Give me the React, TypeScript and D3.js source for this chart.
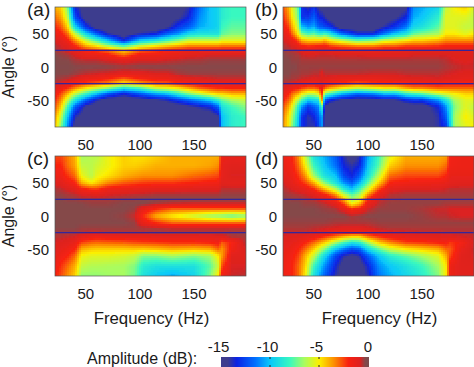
import React, { useMemo } from "react";
import * as d3 from "d3";

const angles = [90, 75, 60, 50, 40, 32, 25, 18, 10, 0, -10, -18, -25, -32, -40, -50, -60, -75, -90];

const freqA = [21, 27, 33, 40, 50, 60, 70, 85, 100, 115, 125, 135, 145, 155, 165, 172, 176, 185, 197];
const ampA = [
  [-4, -3, -2, -1.5, -1, -0.5, -0.5, -0.3, -0.2, -0.2, -0.3, -0.4, -0.7, -1, -1.5, -2, -2.5, -3.5, -4],
  [-4.5, -3.8, -2.7, -1.8, -1, -0.8, -0.6, -0.4, -0.3, -0.2, -0.3, -0.5, -0.8, -1.5, -2.5, -3.5, -4.5, -6, -7],
  [-7, -6, -4.5, -3, -1.8, -1, -0.8, -0.5, -0.3, -0.2, -0.3, -0.6, -1.2, -2.2, -4, -6, -8, -10, -11],
  [-13.5, -12.5, -9.5, -6, -3.5, -2, -1.2, -0.8, -0.5, -0.3, -0.4, -0.9, -1.8, -3.5, -6, -9, -12, -14, -15],
  [-15, -15, -13, -9.5, -6, -4, -2, -1.3, -0.6, -0.3, -0.6, -1.4, -2.5, -5, -8, -12, -14.5, -15, -15],
  [-15, -15, -15, -12, -8, -5, -2.5, -1.4, -0.6, -0.3, -0.7, -1.6, -3, -6, -10, -14, -15, -15, -15],
  [-15, -15, -15, -14, -10, -6.5, -3, -1.8, -0.8, -0.3, -0.8, -2, -3.5, -7, -12, -15, -15, -15, -15],
  [-15, -15, -15, -15, -13.5, -8, -4.5, -3, -1, -0.4, -1, -3, -5, -9, -13.5, -15, -15, -15, -15],
  [-15, -15, -15, -14, -10, -6, -3, -1.6, -0.8, -0.3, -1, -2, -4, -8, -12, -15, -15, -15, -15],
  [-15, -15, -15, -13.5, -9, -5, -2.5, -1.5, -0.8, -0.3, -0.8, -1.6, -3, -6, -10.5, -14.5, -15, -15, -15],
  [-15, -15, -14.5, -12, -8, -4.5, -2, -1.3, -0.7, -0.3, -0.8, -1.5, -3, -5.5, -10, -14, -15, -15, -15],
  [-15, -14.5, -13, -11, -7, -4, -1.8, -1.2, -0.6, -0.3, -0.5, -1.2, -2.2, -5, -8.5, -13, -15, -15, -15],
  [-14, -13.5, -12, -9.5, -6, -3.5, -1.5, -1, -0.5, -0.3, -0.4, -1, -1.8, -4, -7, -12, -14.5, -15, -15],
  [-11.5, -11, -10.5, -9, -6, -3.5, -1.5, -0.9, -0.5, -0.3, -0.4, -0.9, -1.5, -3, -6, -11, -14, -15, -15],
  [-10, -10, -10, -9, -6, -3.5, -1.5, -0.8, -0.4, -0.3, -0.4, -0.8, -1.3, -2.5, -5, -10, -13.5, -15, -15],
  [-9.5, -9.5, -9.5, -9, -6, -3.5, -1.5, -0.8, -0.4, -0.3, -0.4, -0.7, -1.2, -2.2, -4.5, -8.5, -12, -14.5, -15],
  [-8.5, -8.5, -8, -7.5, -5.5, -3.3, -1.5, -0.8, -0.4, -0.3, -0.4, -0.7, -1.2, -2.2, -4.5, -7.5, -9, -10, -10],
  [-8, -8, -7.5, -7, -5.5, -3.3, -1.5, -0.8, -0.4, -0.3, -0.4, -0.7, -1.2, -2, -4, -6.5, -8, -8.5, -8.5],
  [-8, -8, -7.5, -7, -5.5, -3.3, -1.5, -0.8, -0.4, -0.3, -0.4, -0.7, -1.2, -2, -4, -6, -7, -8, -8],
];

const freqB = [21, 27, 30, 33, 36, 39, 45, 50, 55, 57, 60, 65, 75, 90, 105, 115, 125, 135, 142, 150, 165, 172, 180, 190, 197];
const ampB = [
  [-2.5, -2, -1.5, -1, -0.7, -0.5, -0.4, -0.3, -0.3, -0.3, -0.3, -0.4, -0.6, -0.9, -1.2, -1.8, -2.5, -3, -3.5],
  [-4, -3.5, -2.5, -1.8, -1, -0.7, -0.5, -0.4, -0.3, -0.3, -0.3, -0.4, -0.7, -1.2, -2, -3, -4, -5, -5],
  [-5.5, -5, -4, -3, -1.5, -0.9, -0.6, -0.4, -0.4, -0.3, -0.4, -0.5, -0.8, -1.5, -3, -4, -5.5, -6.5, -7],
  [-6.5, -6, -5, -4, -2, -1, -0.6, -0.5, -0.4, -0.3, -0.4, -0.5, -0.9, -1.8, -3.5, -5.5, -7, -8, -8.5],
  [-8, -7.5, -6.5, -5.5, -3, -1.5, -0.8, -0.5, -0.4, -0.4, -0.4, -0.6, -1, -2, -4, -6.5, -9, -10, -10.5],
  [-13, -13, -10, -7, -4, -2, -1, -0.7, -0.5, -0.4, -0.5, -0.7, -1.2, -2.5, -5, -8, -11, -13, -13],
  [-14, -13, -11, -8, -4.5, -2.3, -1.2, -0.8, -0.5, -0.4, -0.5, -0.8, -1.5, -3, -6, -10, -13, -14, -14],
  [-13, -12, -10.5, -7.5, -4.5, -2.2, -1.2, -0.8, -0.5, -0.4, -0.6, -0.9, -1.5, -3, -6, -9.5, -12, -13.5, -14],
  [-14.5, -13.5, -12, -8.5, -4.5, -2, -1, -0.7, -0.5, -0.4, -0.6, -0.8, -1.3, -2.5, -5, -9, -11, -12, -12.5],
  [-14.5, -13.5, -12, -8.5, -4.5, -2, -1, -0.7, -0.5, -0.4, -1, -0.8, -1, -1, -1.2, -2, -7, -10, -10],
  [-15, -14, -12.5, -8, -4, -1.8, -1, -0.7, -0.5, -0.4, -0.6, -0.9, -1.5, -3, -7, -12, -14.5, -15, -15],
  [-15, -15, -13, -9, -5, -2.5, -1.2, -0.7, -0.5, -0.4, -0.6, -1, -1.8, -4, -8, -13.5, -15, -15, -15],
  [-15, -15, -15, -11.5, -6, -3, -1.3, -0.8, -0.5, -0.4, -0.6, -1.2, -2.3, -5, -10, -14.5, -15, -15, -15],
  [-15, -15, -15, -13.5, -7.5, -3.5, -1.4, -0.8, -0.5, -0.4, -0.6, -1.3, -3, -6, -11.5, -15, -15, -15, -15],
  [-15, -15, -15, -13.5, -7, -3.5, -1.4, -0.9, -0.5, -0.4, -0.7, -1.3, -2.5, -5.5, -11, -15, -15, -15, -15],
  [-15, -15, -14, -11.5, -6, -3, -1.3, -0.9, -0.5, -0.4, -0.7, -1.2, -2.5, -5, -10, -14.5, -15, -15, -15],
  [-15, -14.5, -13, -10, -5.5, -3, -1.3, -0.9, -0.5, -0.4, -0.7, -1.1, -2.3, -5, -10, -14.5, -15, -15, -15],
  [-14.5, -13.5, -11.5, -9, -5, -2.5, -1.2, -0.9, -0.5, -0.4, -0.6, -1, -2, -4, -8.5, -13.5, -15, -15, -15],
  [-11, -10.5, -9.5, -7.5, -4.5, -2.5, -1, -0.8, -0.5, -0.4, -0.6, -0.9, -1.8, -3.5, -8, -13, -15, -15, -15],
  [-10.5, -10, -9, -7, -4.5, -2.5, -1, -0.8, -0.5, -0.4, -0.6, -0.9, -1.7, -3.5, -7.5, -13, -15, -15, -15],
  [-9.5, -8.5, -7.5, -6.5, -4, -2.3, -1, -0.8, -0.5, -0.4, -0.6, -0.8, -1.5, -3, -6, -11, -13.5, -14, -14],
  [-6, -5.5, -5.5, -5, -3.5, -2, -1, -0.8, -0.6, -0.5, -0.7, -0.9, -1.8, -3, -5.5, -9, -11, -12, -13],
  [-5, -5.5, -5.5, -5, -3.5, -2, -1, -0.9, -0.8, -0.6, -0.8, -1, -1.8, -3, -5, -6.5, -7, -6.5, -6.5],
  [-4.5, -5.5, -6, -5.5, -3.5, -2, -1, -0.9, -0.9, -0.7, -0.9, -1.2, -1.8, -3, -4.5, -5.5, -5.5, -5, -5.5],
  [-5.5, -6, -6, -5, -3.5, -2, -1, -0.9, -0.8, -0.7, -0.9, -1.2, -1.8, -3, -4.5, -5.5, -6, -5.5, -5],
];

const freqC = [21, 27, 33, 40, 46, 55, 60, 70, 85, 95, 103, 115, 130, 150, 165, 172, 176, 185, 197];
const ampC = [
  [-2.5, -2, -1.5, -1, -0.5, -0.4, -0.3, -0.3, -0.3, -0.3, -0.3, -0.3, -0.5, -0.6, -0.8, -1, -1.2, -1.5, -1.8],
  [-2.5, -2, -1.5, -1, -0.6, -0.4, -0.3, -0.3, -0.3, -0.3, -0.3, -0.3, -0.5, -0.6, -0.9, -1.2, -1.6, -2.2, -2.6],
  [-3.2, -3, -2.2, -1.5, -0.8, -0.5, -0.4, -0.3, -0.3, -0.3, -0.3, -0.3, -0.5, -0.7, -1, -1.5, -2, -3, -3.5],
  [-4, -3.8, -3, -2, -1, -0.6, -0.4, -0.3, -0.3, -0.3, -0.3, -0.3, -0.5, -0.8, -1.3, -2, -3, -4, -4.5],
  [-6.5, -6, -5.2, -4, -1.7, -0.8, -0.5, -0.3, -0.3, -0.3, -0.3, -0.4, -0.6, -1.2, -2.5, -4, -5.2, -6, -6.8],
  [-6.2, -6.2, -6.2, -5, -2.2, -0.9, -0.5, -0.4, -0.3, -0.3, -0.3, -0.4, -0.7, -1.6, -2.9, -4.4, -5.5, -6.3, -6.8],
  [-6.2, -5.8, -5.3, -4.5, -2.3, -1, -0.5, -0.4, -0.3, -0.3, -0.3, -0.4, -0.7, -1.8, -3, -4.5, -5.5, -6.3, -6.8],
  [-5.3, -5.3, -4.8, -3.5, -1.5, -0.8, -0.5, -0.4, -0.3, -0.3, -0.3, -0.4, -0.6, -1.6, -2.9, -4.5, -5.5, -6.4, -6.6],
  [-4.5, -4.5, -4, -2.8, -1.3, -0.7, -0.4, -0.3, -0.3, -0.4, -0.3, -0.4, -0.6, -1.5, -2.8, -4.5, -5.7, -6.5, -6.5],
  [-4.8, -4.5, -3.7, -2.6, -1.2, -0.6, -0.4, -0.3, -0.4, -0.7, -0.4, -0.4, -0.6, -1.4, -2.6, -4.4, -6, -7, -7.2],
  [-4.8, -4.3, -3.5, -2.4, -1.1, -0.6, -0.3, -0.3, -1.3, -2.2, -1.3, -0.5, -0.6, -1.4, -2.5, -4.5, -7, -8.5, -9],
  [-4.5, -4, -3.5, -2.3, -1, -0.5, -0.3, -0.5, -2.2, -4, -2.2, -0.5, -0.5, -1.3, -2.4, -4.3, -7, -9, -9.8],
  [-4, -4, -3.5, -2.3, -1, -0.5, -0.3, -0.7, -3, -5, -3, -0.7, -0.5, -1.2, -2.2, -4, -6.5, -9, -10.5],
  [-4, -4, -3, -2, -0.9, -0.5, -0.3, -0.8, -3, -6, -3, -0.7, -0.5, -1.2, -2.2, -4.2, -7, -9, -9.5],
  [-4, -3.8, -2.7, -1.8, -0.9, -0.5, -0.3, -0.8, -3, -6.8, -3, -0.7, -0.5, -1.1, -2, -4, -6.5, -7.5, -7],
  [-4, -3.5, -2.5, -1.7, -0.9, -0.5, -0.3, -0.8, -3, -7, -3, -0.7, -0.5, -1, -1.7, -3, -5, -6, -5],
  [-1.5, -1.2, -1.2, -1, -0.6, -0.4, -0.3, -0.8, -3, -7.2, -3, -0.7, -0.5, -1, -2.8, -3.6, -3.6, -2.5, -1.5],
  [-1.3, -1, -0.8, -1.1, -0.6, -0.4, -0.3, -0.8, -3, -7.5, -3, -0.7, -0.4, -0.6, -1.9, -1.6, -1, -0.8, -0.7],
  [-1.4, -1, -0.8, -1.1, -0.6, -0.4, -0.3, -0.8, -3, -7, -3, -0.7, -0.4, -0.5, -0.6, -0.8, -1, -0.8, -0.6],
];

const freqD = [21, 30, 36, 42, 50, 60, 70, 78, 85, 92, 100, 110, 120, 135, 150, 165, 172, 176, 186, 197];
const ampD = [
  [-1.5, -1.3, -1, -0.7, -0.5, -0.4, -0.3, -0.3, -0.3, -0.3, -0.4, -0.5, -0.7, -0.8, -1, -1.2, -1.3, -1.5, -1.5],
  [-2, -1.8, -1.5, -1.2, -0.8, -0.5, -0.4, -0.3, -0.3, -0.3, -0.4, -0.5, -0.7, -0.9, -1.2, -1.5, -1.8, -2, -2],
  [-3.5, -3, -2.3, -1.8, -1, -0.6, -0.4, -0.3, -0.3, -0.3, -0.4, -0.5, -0.7, -1, -1.5, -2, -2.5, -3, -3],
  [-6, -5, -3.5, -2.5, -1.2, -0.7, -0.5, -0.4, -0.3, -0.3, -0.4, -0.5, -0.7, -1.2, -2, -3, -4, -4.5, -5],
  [-9, -8, -6.5, -4, -2, -1, -0.6, -0.4, -0.3, -0.3, -0.4, -0.6, -0.8, -1.5, -3, -4.5, -6, -8, -9],
  [-10.5, -10, -9, -7, -4, -1.8, -1, -0.6, -0.4, -0.3, -0.4, -0.7, -1, -2.5, -4.5, -7, -9.5, -11, -12],
  [-12, -11.5, -10, -9, -6, -3.5, -2, -1, -0.5, -0.3, -0.5, -0.8, -1.5, -3.5, -6.5, -10, -12.5, -13.5, -14],
  [-14, -13.5, -12.5, -11, -8.5, -6, -4, -2.5, -1, -0.3, -0.5, -0.9, -1.7, -4.5, -8, -11.5, -14, -15, -15],
  [-15, -14, -13.5, -12, -10, -7.5, -6.5, -5, -2, -0.5, -0.5, -0.9, -1.8, -5, -9, -12.5, -14.5, -15, -15],
  [-14, -13.5, -12, -10.5, -8, -6.5, -5.5, -4, -1.5, -0.4, -0.5, -0.9, -1.8, -5, -8.5, -12, -14, -15, -15],
  [-10.5, -10, -9, -7.5, -5.5, -3.5, -2, -1.2, -0.7, -0.3, -0.5, -0.8, -1.5, -3.5, -6.5, -9.5, -12, -13.5, -14],
  [-8, -7.5, -6, -4.5, -2.5, -1.2, -0.7, -0.6, -0.4, -0.3, -0.4, -0.6, -1, -2.5, -4.5, -7.5, -10, -11, -11.5],
  [-5.5, -4.5, -3, -2, -1, -0.6, -0.5, -0.4, -0.4, -0.3, -0.4, -0.5, -0.9, -1.8, -3.5, -6, -8.5, -10, -10.5],
  [-4, -3.5, -2.5, -1.7, -0.8, -0.5, -0.4, -0.4, -0.4, -0.3, -0.4, -0.5, -0.8, -1.3, -2.5, -5, -7.5, -9, -9.5],
  [-4, -3.5, -2.5, -1.6, -0.8, -0.5, -0.4, -0.4, -0.5, -0.4, -0.4, -0.5, -0.7, -1.2, -2.3, -4.5, -6.5, -8, -8.5],
  [-4, -3.5, -2.5, -1.5, -0.8, -0.5, -0.4, -0.4, -0.7, -0.6, -0.4, -0.5, -0.7, -1, -2, -4, -5.5, -6.5, -7],
  [-3.8, -3, -2, -1.3, -0.7, -0.5, -0.4, -0.5, -0.7, -0.6, -0.4, -0.5, -0.6, -1, -1.8, -3, -4, -5, -5],
  [-1.8, -1.6, -1.3, -1.1, -0.6, -0.5, -0.4, -0.5, -0.8, -0.7, -0.4, -0.5, -0.6, -1, -2.3, -2.8, -2.5, -1.5, -1.5],
  [-1.5, -1.5, -1.3, -1, -0.6, -0.5, -0.4, -0.5, -0.8, -0.8, -0.4, -0.5, -0.6, -0.8, -1.8, -1.3, -1, -1, -1],
  [-1.5, -1.5, -1.3, -1, -0.6, -0.5, -0.4, -0.5, -0.8, -0.8, -0.4, -0.5, -0.6, -0.7, -0.8, -0.7, -0.8, -1, -1],
];

const panelLabels = ["(a)", "(b)", "(c)", "(d)"];
const xTicks = [50, 100, 150];
const yTicks = [50, 0, -50];
const refAngles = [25, -25];
const colorTicks = [-15, -10, -5, 0];
const colorDomain = [-15, -14.3, -13.4, -11.5, -10, -8, -6.5, -5, -3.5, -2, -0.8, -0.3, 0];
const colorRange = ["#3d3c8e", "#3d3c8e", "#0a22e4", "#0070ff", "#08c8fa", "#38f8c0", "#a8fc60", "#fcf000", "#fc9000", "#f82010", "#dc2020", "#85484a", "#7a4a4c"];

const color = d3.scaleLinear<string>().domain(colorDomain).range(colorRange).clamp(true);
const fontFamily = "'Liberation Sans', Arial, sans-serif";

function sample(freqs: number[], grid: number[][], f: number, a: number) {
  const i = Math.min(Math.max(d3.bisectRight(freqs, f) - 1, 0), freqs.length - 2);
  const u = Math.min(Math.max((f - freqs[i]) / (freqs[i + 1] - freqs[i]), 0), 1);
  let j = 0;
  while (j < angles.length - 2 && a < angles[j + 1]) j++;
  const v = Math.min(Math.max((angles[j] - a) / (angles[j] - angles[j + 1]), 0), 1);
  const top = grid[i][j] * (1 - u) + grid[i + 1][j] * u;
  const bot = grid[i][j + 1] * (1 - u) + grid[i + 1][j + 1] * u;
  return top * (1 - v) + bot * v;
}

function Panel({ id, left, top, label, freqs, grid, showLabel, labelX }: any) {
  const w = 191;
  const h = 120;
  const x = d3.scaleLinear().domain([21.5, 198]).range([left, left + w]);
  const y = d3.scaleLinear().domain([90, -90]).range([top, top + h]);
  const cells = useMemo(() => {
    const out: React.ReactNode[] = [];
    for (let px = 0; px < w; px += 2) {
      for (let py = 0; py < h; py += 2) {
        const val = sample(freqs, grid, x.invert(left + px + 1), y.invert(top + py + 1));
        out.push(<rect key={`${px}-${py}`} x={left + px} y={top + py} width={2} height={2} fill={color(val)} />);
      }
    }
    return out;
  }, []);
  return (
    <g fontFamily={fontFamily} fill="#1a1a1a">
      <clipPath id={`clip-${id}`}><rect x={left} y={top} width={w} height={h} /></clipPath>
      <g clipPath={`url(#clip-${id})`}>
        <g shapeRendering="crispEdges" filter="url(#soft)">{cells}</g>
      </g>
      {refAngles.map((a) => (
        <line key={a} x1={left} x2={left + w} y1={y(a)} y2={y(a)} stroke="#35259a" strokeWidth={1.1} />
      ))}
      <rect x={left} y={top} width={w} height={h} fill="none" stroke="#555" strokeWidth={0.7} />
      {xTicks.map((t) => (
        <text key={t} x={x(t)} y={top + h + 23} textAnchor="middle" fontSize={15}>{t}</text>
      ))}
      {yTicks.map((t) => (
        <text key={t} x={left - 6} y={y(t) + 5.5} textAnchor="end" fontSize={15}>{t}</text>
      ))}
      <text x={labelX} y={top + 9} textAnchor="start" fontSize={19}>{label}</text>
      {showLabel && (
        <text transform={`translate(14,${top + 60}) rotate(-90)`} textAnchor="middle" fontSize={16}>Angle (°)</text>
      )}
      {top > 100 && (
        <text x={left + w / 2 + 1} y={324} textAnchor="middle" fontSize={16.8}>Frequency (Hz)</text>
      )}
    </g>
  );
}

function ColorBar() {
  const left = 221;
  const right = 368;
  const top = 357;
  const x = d3.scaleLinear().domain([-15, 0]).range([left, right]);
  const strips = d3.range(left, right).map((px) => (
    <rect key={px} x={px} y={top} width={1.5} height={10} fill={color(x.invert(px + 0.5))} />
  ));
  return (
    <g fontFamily={fontFamily} fill="#1a1a1a">
      <text x={87} y={364} fontSize={16}>Amplitude (dB):</text>
      <g shapeRendering="crispEdges">{strips}</g>
      {colorTicks.map((t) => (
        <g key={t}>
          <text x={x(t) - (t < 0 ? 2.5 : 0)} y={352} textAnchor="middle" fontSize={15}>{t}</text>
          {t > -15 && t < 0 && <line x1={x(t)} x2={x(t)} y1={top} y2={top + 2} stroke="#222" />}
          {t > -15 && t < 0 && <line x1={x(t)} x2={x(t)} y1={top + 8} y2={top + 10} stroke="#222" />}
        </g>
      ))}
    </g>
  );
}

export default function App() {
  return (
    <svg width={474} height={367} style={{ position: "absolute", left: 0, top: 0, background: "#fff" }}>
      <defs>
        <filter id="soft" x="-2%" y="-2%" width="104%" height="104%">
          <feGaussianBlur stdDeviation="0.6" />
        </filter>
      </defs>
      <Panel id="a" left={55} top={7} label={panelLabels[0]} freqs={freqA} grid={ampA} showLabel labelX={27} />
      <Panel id="b" left={283} top={7} label={panelLabels[1]} freqs={freqB} grid={ampB} labelX={255} />
      <Panel id="c" left={55} top={156} label={panelLabels[2]} freqs={freqC} grid={ampC} showLabel labelX={27} />
      <Panel id="d" left={283} top={156} label={panelLabels[3]} freqs={freqD} grid={ampD} labelX={255} />
      <ColorBar />
    </svg>
  );
}
